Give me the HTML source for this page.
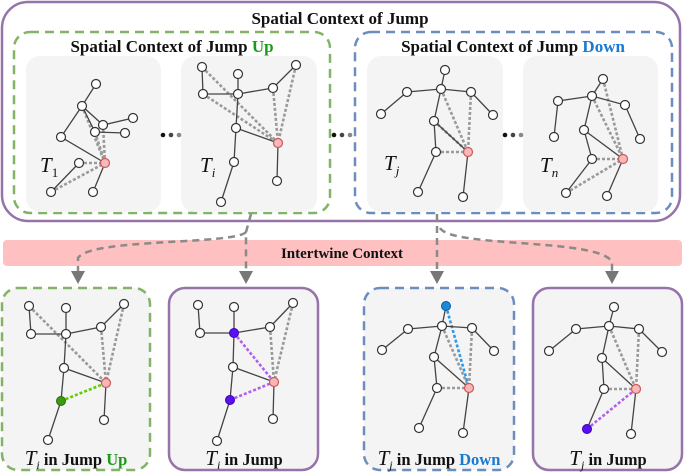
<!DOCTYPE html>
<html><head><meta charset="utf-8"><style>
html,body{margin:0;padding:0;background:#fff;}
svg{display:block;}
text{font-family:"Liberation Serif",serif;font-weight:bold;fill:#111;}
.s{stroke:#444;stroke-width:1.3;fill:none;}
.d{stroke:#9a9a9a;stroke-width:2.6;stroke-dasharray:3 2;fill:none;}
.n{fill:#fff;stroke:#333;stroke-width:1.2;}
.r{fill:#f6b8b8;stroke:#d05858;stroke-width:1.2;}
.it{font-style:italic;font-weight:normal;font-size:21px;}
</style></head><body>
<svg width="685" height="473" viewBox="0 0 685 473" xmlns="http://www.w3.org/2000/svg">
<rect x="2" y="2" width="678" height="219" rx="26" fill="none" stroke="#9673a8" stroke-width="2.5"/>
<text x="340" y="24" font-size="17" text-anchor="middle">Spatial Context of Jump</text>
<rect x="14" y="32" width="316" height="181" rx="16" fill="none" stroke="#82b366" stroke-width="2.5" stroke-dasharray="9 6"/>
<text x="172" y="52" font-size="17" text-anchor="middle">Spatial Context of Jump <tspan fill="#1a9a1a">Up</tspan></text>
<rect x="355" y="32" width="317" height="181" rx="16" fill="none" stroke="#6c8ebf" stroke-width="2.5" stroke-dasharray="9 6"/>
<text x="513" y="52" font-size="17" text-anchor="middle">Spatial Context of Jump <tspan fill="#1a7ad0">Down</tspan></text>
<g fill="#f4f4f4">
<rect x="26" y="56" width="135" height="156" rx="14"/>
<rect x="181" y="56" width="136" height="156" rx="14"/>
<rect x="367" y="56" width="136" height="156" rx="14"/>
<rect x="523" y="56" width="135" height="156" rx="14"/>
</g>
<g>
<circle cx="163" cy="135" r="2.3" fill="#111"/><circle cx="171" cy="135" r="2.3" fill="#444"/><circle cx="179" cy="135" r="2.3" fill="#888"/>
<circle cx="334" cy="135" r="2.3" fill="#111"/><circle cx="342" cy="135" r="2.3" fill="#444"/><circle cx="350" cy="135" r="2.3" fill="#888"/>
<circle cx="505" cy="135" r="2.3" fill="#111"/><circle cx="513" cy="135" r="2.3" fill="#444"/><circle cx="521" cy="135" r="2.3" fill="#888"/>
</g>
<!-- T1 -->
<g>
<path class="d" d="M82,106L105,163M103,125L105,163M95,132L105,163M79,163L105,163M51,192L105,163"/>
<path class="s" d="M96,84L82,106L103,125L133,118M82,106L95,132L125,133M82,106L61,137L105,163L93,192M79,163L51,192"/>
<circle class="n" cx="96" cy="84" r="4.5"/><circle class="n" cx="82" cy="106" r="4.5"/><circle class="n" cx="103" cy="125" r="4.5"/><circle class="n" cx="133" cy="118" r="4.5"/><circle class="n" cx="95" cy="132" r="4.5"/><circle class="n" cx="125" cy="133" r="4.5"/><circle class="n" cx="61" cy="137" r="4.5"/><circle class="n" cx="79" cy="163" r="4.5"/><circle class="r" cx="105" cy="163" r="4.5"/><circle class="n" cx="51" cy="192" r="4.5"/><circle class="n" cx="93" cy="192" r="4.5"/>
<text class="it" x="40" y="172">T<tspan font-size="13" dy="5" font-style="normal">1</tspan></text>
</g>
<!-- Ti -->
<g>
<path class="d" d="M202,67L278,143M203,94L278,143M273,88L278,143M296,65L278,143"/>
<path class="s" d="M202,67L203,94L238,94L238,74M238,94L273,88L296,65M238,94L236,128L278,143L277,181M236,128L234,162L221,202"/>
<circle class="n" cx="202" cy="67" r="4.5"/><circle class="n" cx="238" cy="74" r="4.5"/><circle class="n" cx="296" cy="65" r="4.5"/><circle class="n" cx="203" cy="94" r="4.5"/><circle class="n" cx="238" cy="94" r="4.5"/><circle class="n" cx="273" cy="88" r="4.5"/><circle class="n" cx="236" cy="128" r="4.5"/><circle class="r" cx="278" cy="143" r="4.5"/><circle class="n" cx="234" cy="162" r="4.5"/><circle class="n" cx="277" cy="181" r="4.5"/><circle class="n" cx="221" cy="202" r="4.5"/>
<text class="it" x="200" y="172">T<tspan font-size="13" dy="5">i</tspan></text>
</g>
<!-- Tj -->
<g>
<path class="d" d="M441,89L468,152M471,92L468,152M434,121L468,152M436,152L468,152"/>
<path class="s" d="M445,70L441,89M381,114L407,92L441,89L471,92L493,115M441,89L434,121L468,152L463,197M434,121L436,152L418,192"/>
<circle class="n" cx="445" cy="70" r="4.5"/><circle class="n" cx="441" cy="89" r="4.5"/><circle class="n" cx="407" cy="92" r="4.5"/><circle class="n" cx="471" cy="92" r="4.5"/><circle class="n" cx="381" cy="114" r="4.5"/><circle class="n" cx="493" cy="115" r="4.5"/><circle class="n" cx="434" cy="121" r="4.5"/><circle class="n" cx="436" cy="152" r="4.5"/><circle class="r" cx="468" cy="152" r="4.5"/><circle class="n" cx="418" cy="192" r="4.5"/><circle class="n" cx="463" cy="197" r="4.5"/>
<text class="it" x="384" y="170">T<tspan font-size="13" dy="5">j</tspan></text>
</g>
<!-- Tn -->
<g>
<path class="d" d="M603,79L623,159M592,96L623,159M592,159L623,159M566,193L623,159"/>
<path class="s" d="M603,79L592,96M554,137L558,101L592,96L625,105L640,139M592,96L584,130L623,159L607,196M584,130L592,159L566,193"/>
<circle class="n" cx="603" cy="79" r="4.5"/><circle class="n" cx="592" cy="96" r="4.5"/><circle class="n" cx="558" cy="101" r="4.5"/><circle class="n" cx="625" cy="105" r="4.5"/><circle class="n" cx="554" cy="137" r="4.5"/><circle class="n" cx="640" cy="139" r="4.5"/><circle class="n" cx="584" cy="130" r="4.5"/><circle class="n" cx="592" cy="159" r="4.5"/><circle class="r" cx="623" cy="159" r="4.5"/><circle class="n" cx="566" cy="193" r="4.5"/><circle class="n" cx="607" cy="196" r="4.5"/>
<text class="it" x="540" y="172">T<tspan font-size="13" dy="5">n</tspan></text>
</g>
<!-- band -->
<rect x="3" y="240" width="679" height="26" rx="4" fill="#fec0c0"/>
<text x="342" y="258" font-size="15" text-anchor="middle">Intertwine Context</text>
<!-- arrows -->
<g stroke="#8a8a8a" stroke-width="2.5" fill="none" stroke-dasharray="7 5">
<path d="M251,214L246,232L246,272"/>
<path d="M246,232C235,245 90,238 78,258L78,272"/>
<path d="M437,214L437,272"/>
<path d="M440,228C452,248 600,238 612,262L612,272"/>
</g>
<g fill="#777">
<path d="M71,271L85,271L78,284Z"/><path d="M239,271L253,271L246,284Z"/><path d="M430,271L444,271L437,284Z"/><path d="M605,271L619,271L612,284Z"/>
</g>
<!-- bottom boxes -->
<rect x="2" y="288" width="148" height="182" rx="16" fill="#f4f4f4" stroke="#82b366" stroke-width="2.5" stroke-dasharray="9 6"/>
<rect x="169" y="288" width="149" height="182" rx="16" fill="#f4f4f4" stroke="#9673a8" stroke-width="2.5"/>
<rect x="364" y="288" width="150" height="182" rx="16" fill="#f4f4f4" stroke="#6c8ebf" stroke-width="2.5" stroke-dasharray="9 6"/>
<rect x="533" y="288" width="149" height="182" rx="16" fill="#f4f4f4" stroke="#9673a8" stroke-width="2.5"/>
<!-- B1 -->
<g>
<path class="d" d="M29,306L106,383M101,327L106,383M124,304L106,383"/>
<path d="M61,401L106,383" stroke="#66cc00" stroke-width="2.6" stroke-dasharray="3 2" fill="none"/>
<path class="s" d="M29,306L31,334L66,334L66,308M66,334L101,327L124,304M66,334L64,368L106,383L104,420M64,368L61,401L48,440"/>
<circle class="n" cx="29" cy="306" r="4.5"/><circle class="n" cx="66" cy="308" r="4.5"/><circle class="n" cx="124" cy="304" r="4.5"/><circle class="n" cx="31" cy="334" r="4.5"/><circle class="n" cx="66" cy="334" r="4.5"/><circle class="n" cx="101" cy="327" r="4.5"/><circle class="n" cx="64" cy="368" r="4.5"/><circle class="r" cx="106" cy="383" r="4.5"/><circle cx="61" cy="401" r="4.5" fill="#3a9a10" stroke="#2a6a10"/><circle class="n" cx="104" cy="420" r="4.5"/><circle class="n" cx="48" cy="440" r="4.5"/>
<text x="76" y="465" font-size="16.5" text-anchor="middle"><tspan class="it">T</tspan><tspan font-size="12" dy="4" font-style="italic" font-weight="normal">i</tspan><tspan dy="-4"> in Jump </tspan><tspan fill="#1a9a1a">Up</tspan></text>
</g>
<!-- B2 -->
<g>
<path class="d" d="M270,327L274,382M293,303L274,382"/>
<path d="M234,333L274,382M230,400L274,382" stroke="#b060f0" stroke-width="2.6" stroke-dasharray="3 2" fill="none"/>
<path class="s" d="M198,305L200,333L234,333L234,307M234,333L270,327L293,303M234,333L233,367L274,382L273,419M233,367L230,400L217,441"/>
<circle class="n" cx="198" cy="305" r="4.5"/><circle class="n" cx="234" cy="307" r="4.5"/><circle class="n" cx="293" cy="303" r="4.5"/><circle class="n" cx="200" cy="333" r="4.5"/><circle cx="234" cy="333" r="4.5" fill="#5a10f0" stroke="#3a00b0"/><circle class="n" cx="270" cy="327" r="4.5"/><circle class="n" cx="233" cy="367" r="4.5"/><circle class="r" cx="274" cy="382" r="4.5"/><circle cx="230" cy="400" r="4.5" fill="#5a10f0" stroke="#3a00b0"/><circle class="n" cx="273" cy="419" r="4.5"/><circle class="n" cx="217" cy="441" r="4.5"/>
<text x="244" y="465" font-size="16.5" text-anchor="middle"><tspan class="it">T</tspan><tspan font-size="12" dy="4" font-style="italic" font-weight="normal">i</tspan><tspan dy="-4"> in Jump</tspan></text>
</g>
<!-- B3 -->
<g>
<path class="d" d="M442,326L469,388M472,328L469,388M437,388L469,388"/>
<path d="M446,306L469,388" stroke="#2a9af0" stroke-width="2.6" stroke-dasharray="3 2" fill="none"/>
<path class="s" d="M446,306L442,326M382,350L408,329L442,326L472,328L494,351M442,326L434,357L469,388L463,433M434,357L437,388L419,428"/>
<circle cx="446" cy="306" r="4.5" fill="#1a8ad8" stroke="#0a5a98"/><circle class="n" cx="442" cy="326" r="4.5"/><circle class="n" cx="408" cy="329" r="4.5"/><circle class="n" cx="472" cy="328" r="4.5"/><circle class="n" cx="382" cy="350" r="4.5"/><circle class="n" cx="494" cy="351" r="4.5"/><circle class="n" cx="434" cy="357" r="4.5"/><circle class="n" cx="437" cy="388" r="4.5"/><circle class="r" cx="469" cy="388" r="4.5"/><circle class="n" cx="419" cy="428" r="4.5"/><circle class="n" cx="463" cy="433" r="4.5"/>
<text x="439" y="465" font-size="16.5" text-anchor="middle"><tspan class="it">T</tspan><tspan font-size="12" dy="4" font-style="italic" font-weight="normal">j</tspan><tspan dy="-4"> in Jump </tspan><tspan fill="#1a7ad0">Down</tspan></text>
</g>
<!-- B4 -->
<g>
<path class="d" d="M609,326L636,389M639,329L636,389M604,389L636,389"/>
<path d="M587,429L636,389" stroke="#b060f0" stroke-width="2.6" stroke-dasharray="3 2" fill="none"/>
<path class="s" d="M614,307L609,326M549,351L576,329L609,326L639,329L662,352M609,326L602,358L636,389L631,434M602,358L604,389L587,429"/>
<circle class="n" cx="614" cy="307" r="4.5"/><circle class="n" cx="609" cy="326" r="4.5"/><circle class="n" cx="576" cy="329" r="4.5"/><circle class="n" cx="639" cy="329" r="4.5"/><circle class="n" cx="549" cy="351" r="4.5"/><circle class="n" cx="662" cy="352" r="4.5"/><circle class="n" cx="602" cy="358" r="4.5"/><circle class="n" cx="604" cy="389" r="4.5"/><circle class="r" cx="636" cy="389" r="4.5"/><circle cx="587" cy="429" r="4.5" fill="#5a10f0" stroke="#3a00b0"/><circle class="n" cx="631" cy="434" r="4.5"/>
<text x="608" y="465" font-size="16.5" text-anchor="middle"><tspan class="it">T</tspan><tspan font-size="12" dy="4" font-style="italic" font-weight="normal">j</tspan><tspan dy="-4"> in Jump</tspan></text>
</g>
</svg>
</body></html>
